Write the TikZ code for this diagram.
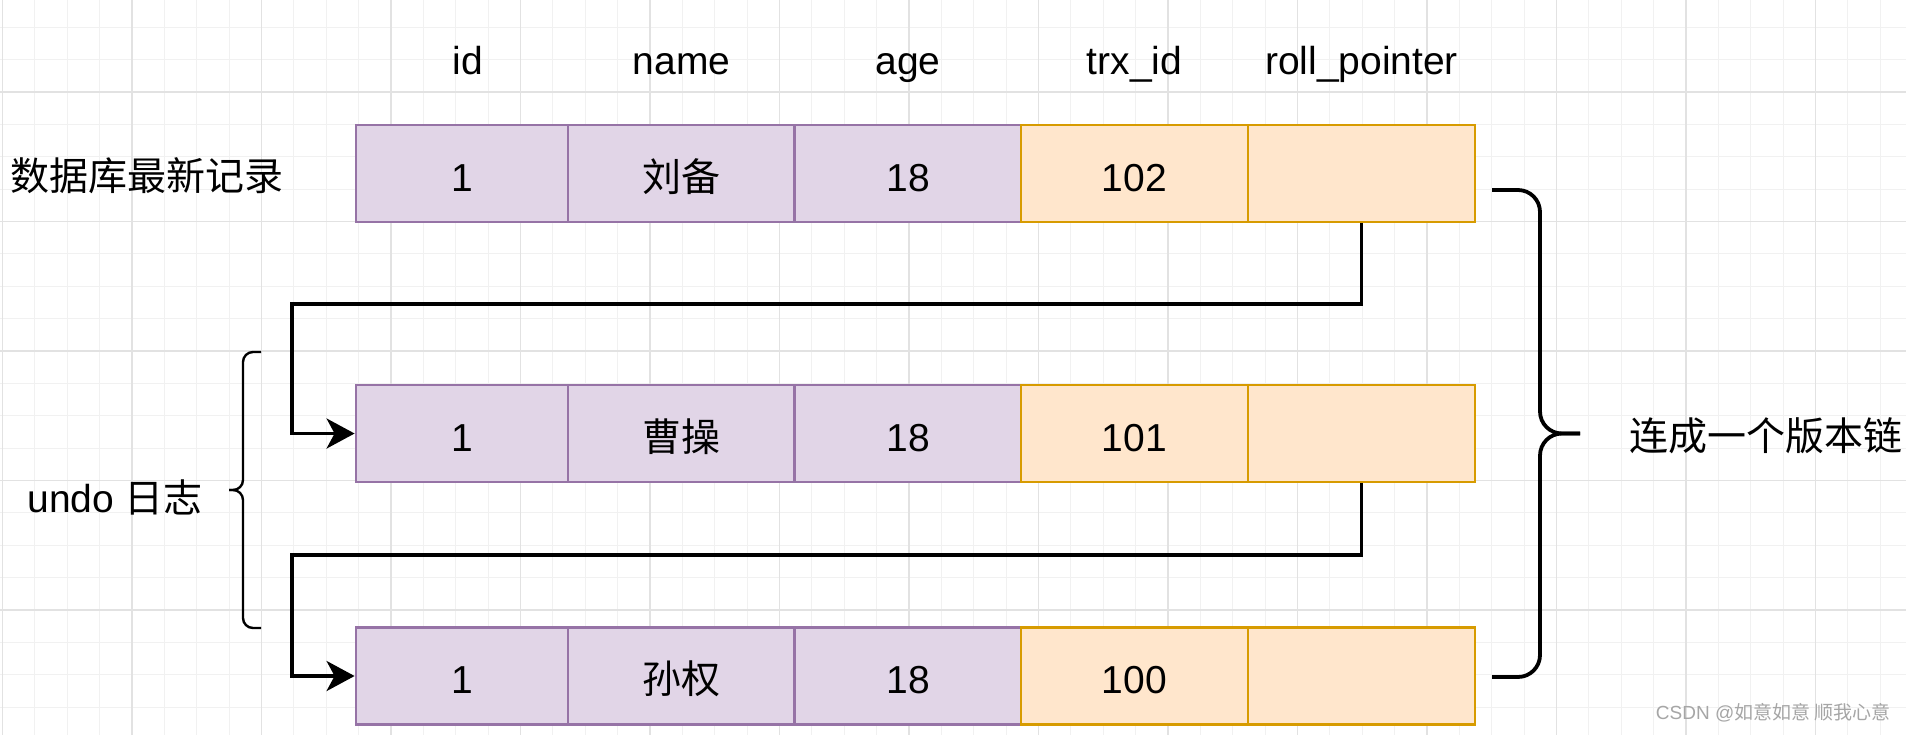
\documentclass[tikz,border=0pt]{standalone}
\usepackage{fontspec}
\setmainfont{Liberation Sans}
\newfontfamily\cjk{Noto Sans CJK SC}
\definecolor{RowPurple}{HTML}{E1D5E7}
\definecolor{RowPurpleLine}{HTML}{9673A6}
\definecolor{RowOrange}{HTML}{FFE6CC}
\definecolor{RowOrangeLine}{HTML}{D79B00}
\definecolor{GridMinor}{HTML}{F1F1F1}
\definecolor{GridMajor}{HTML}{E2E2E2}
\usepackage{tikz}
\usetikzlibrary{
    arrows.meta,
    positioning,
    calc,
}

\begin{document}
\begin{tikzpicture}[
        x=0.5pt, y=-0.5pt,
        cell/.style={rectangle, draw=#1Line, fill=#1, line width=1.4pt, minimum width=113.5pt, minimum height=48.5pt, inner sep=0pt, text height=17.5pt, text depth=0pt, font=\fontsize{19.5}{23}\selectfont},
        head/.style={font=\fontsize{19.5}{23}\selectfont},
        link/.style={-{Stealth[length=14pt, width=15pt, inset=4pt]}, line width=1.8pt},
        brace/.style={line width=#1, rounded corners=5pt},
    ]
        \useasboundingbox (0,0) rectangle (1906,735);
        \fill[white] (0,0) rectangle (1906,735);
        % background grid
        \foreach \gx in {0,...,58} \draw[GridMinor, line width=0.6pt] (2.5+32.375*\gx,0) -- (2.5+32.375*\gx,735);
        \foreach \gy in {0,...,21} \draw[GridMinor, line width=0.6pt] (0,27.25+32.375*\gy) -- (1906,27.25+32.375*\gy);
        \foreach \gx in {0,...,14} \draw[GridMajor, line width=0.7pt] (2.5+129.5*\gx,0) -- (2.5+129.5*\gx,735);
        \foreach \gy in {0,...,4} \draw[GridMajor, line width=0.7pt] (0,92+129.5*\gy) -- (1906,92+129.5*\gy);

        % column heads
        \node[head, anchor=base] (hid) at (468,74) {id};
        \node[head, anchor=base] (hname) at (681.5,74) {name};
        \node[head, anchor=base] (hage) at (908,74) {age};
        \node[head, anchor=base] (htrx) at (1134.5,74) {trx\_id};
        \node[head, anchor=base] (hptr) at (1361.5,74) {roll\_pointer};

        % newest record
        \node[cell=RowPurple, minimum width=106pt] (id1) at (462,173.5) {1};
        \node[cell=RowPurple] (name1) at (681.5,173.5) {\cjk 刘备};
        \node[cell=RowPurple] (age1) at (908,173.5) {18};
        \node[cell=RowOrange] (trx1) at (1134.5,173.5) {102};
        \node[cell=RowOrange] (ptr1) at (1361.5,173.5) {};

        % undo log records
        \node[cell=RowPurple, minimum width=106pt] (id2) at (462,433.5) {1};
        \node[cell=RowPurple] (name2) at (681.5,433.5) {\cjk 曹操};
        \node[cell=RowPurple] (age2) at (908,433.5) {18};
        \node[cell=RowOrange] (trx2) at (1134.5,433.5) {101};
        \node[cell=RowOrange] (ptr2) at (1361.5,433.5) {};

        \node[cell=RowPurple, minimum width=106pt] (id3) at (462,676) {1};
        \node[cell=RowPurple] (name3) at (681.5,676) {\cjk 孙权};
        \node[cell=RowPurple] (age3) at (908,676) {18};
        \node[cell=RowOrange] (trx3) at (1134.5,676) {100};
        \node[cell=RowOrange] (ptr3) at (1361.5,676) {};

        % roll pointers
        \coordinate (bend1) at (292,304);
        \coordinate (bend2) at (292,555);
        \draw[link] (ptr1.south) |- (bend1) |- (id2.west);
        \draw[link] (ptr2.south) |- (bend2) |- (id3.west);

        % braces
        \coordinate (ltop) at (261,352);
        \coordinate (lbot) at (261,628);
        \coordinate (lmid) at (243,490);
        \coordinate (ltip) at (229,490);
        \draw[brace=1.2pt] (ltop) -| (lmid) -- (ltip);
        \draw[brace=1.2pt] (lbot) -| (lmid) -- (ltip);
        \coordinate (rtop) at (1492,190);
        \coordinate (rbot) at (1492,677);
        \coordinate (rmid) at (1540,433.5);
        \coordinate (rtip) at (1580,433.5);
        \draw[brace=1.9pt, rounded corners=11pt] (rtop) -| (rmid) -- (rtip);
        \draw[brace=1.9pt, rounded corners=11pt] (rbot) -| (rmid) -- (rtip);

        % side labels
        \node[head, anchor=west, inner sep=0pt] (newest) at (10,176) {\cjk 数据库最新记录};
        \node[head, anchor=west, inner sep=0pt] (undo) at (27,497) {undo \cjk 日志};
        \node[head, anchor=west, inner sep=0pt] (chain) at (1629,436) {\cjk 连成一个版本链};
        \node[font=\fontsize{9.5}{11}\selectfont, text=gray!70, anchor=east, inner sep=0pt] (mark) at (1891,713) {CSDN @\cjk 如意如意 顺我心意};
    \end{tikzpicture}
\end{document}
